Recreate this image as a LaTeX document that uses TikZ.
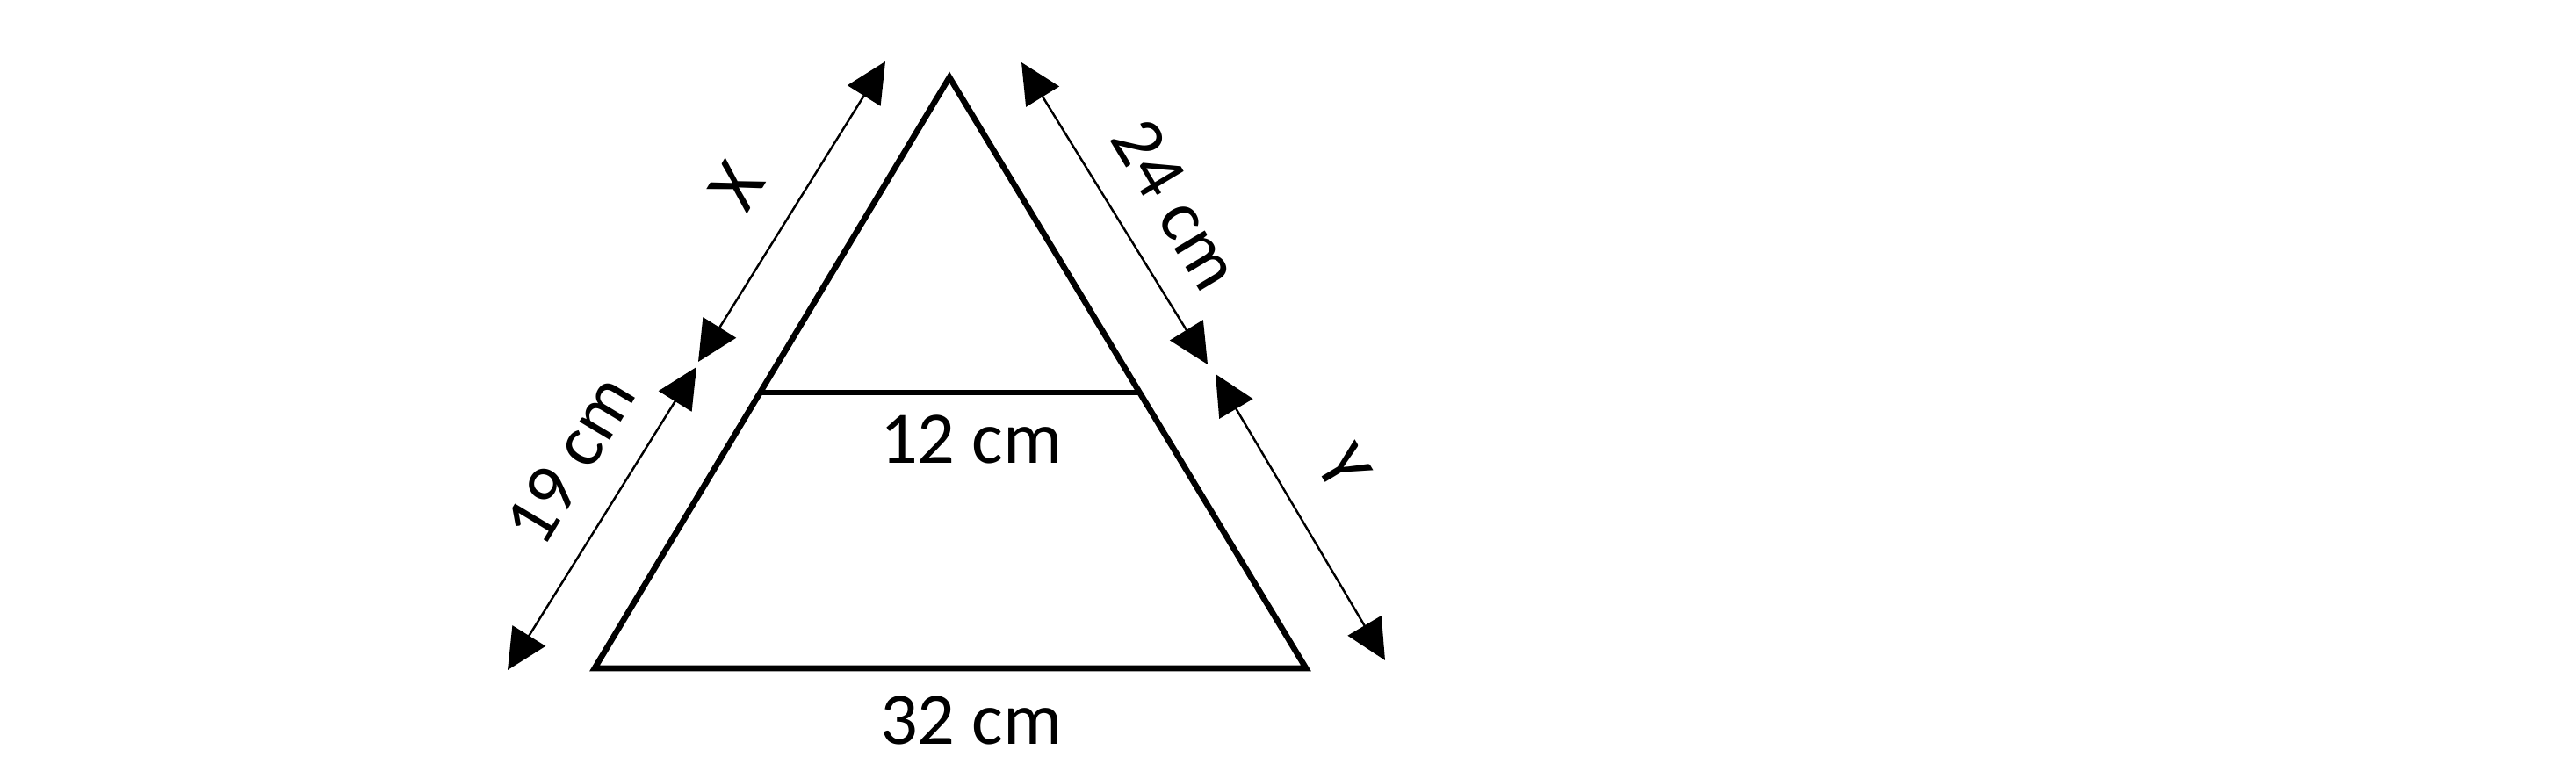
\documentclass[tikz,border=0pt]{standalone}
\usepackage{fontspec}
\setmainfont{Carlito}
\usetikzlibrary{arrows.meta}

\begin{document}
\begin{tikzpicture}[
    side/.style={line width=1.9pt, line join=miter},
    dim/.style={line width=0.7pt, {Triangle[length=0.46cm, width=0.44cm]}-{Triangle[length=0.46cm, width=0.44cm]}},
    lbl/.style={font=\fontsize{24}{29}\selectfont, inner sep=0pt}
  ]
    \useasboundingbox (0, 0) rectangle (29.33, 8.70);
    \coordinate (A) at (10.81, 7.82);
    \coordinate (B) at (6.77, 1.09);
    \coordinate (C) at (14.87, 1.09);
    \coordinate (P) at (8.66, 4.23);
    \coordinate (Q) at (12.97, 4.23);
    \draw[side] (A)--(B)--(C)--cycle;
    \draw[side] (P)--(Q);
    % dimension ends
    \coordinate (xtop) at (10.08, 8.00);
    \coordinate (xbot) at (7.95, 4.58);
    \coordinate (ntop) at (7.93, 4.52);
    \coordinate (nbot) at (5.78, 1.07);
    \coordinate (ttop) at (11.63, 7.99);
    \coordinate (tbot) at (13.75, 4.55);
    \coordinate (ytop) at (13.84, 4.44);
    \coordinate (ybot) at (15.77, 1.18);
    \draw[dim] (xtop)--(xbot);
    \draw[dim] (ntop)--(nbot);
    \draw[dim] (ttop)--(tbot);
    \draw[dim] (ytop)--(ybot);
    \node[lbl, rotate=59] (X) at (8.39, 6.58){X};
    \node[lbl, rotate=59] (nineteen) at (6.49, 3.46){19 cm};
    \node[lbl, rotate=-59] (twentyfour) at (13.39, 6.37){24 cm};
    \node[lbl, rotate=-59] (Y) at (15.30, 3.38){Y};
    \node[lbl] (twelve) at (11.06, 3.70){12 cm};
    \node[lbl] (thirtytwo) at (11.06, 0.50){32 cm};
  \end{tikzpicture}
\end{document}
